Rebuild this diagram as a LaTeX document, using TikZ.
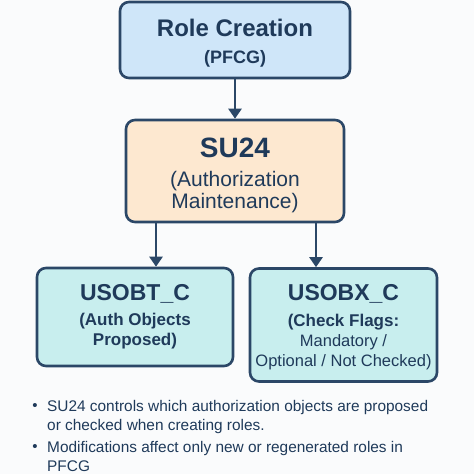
\documentclass[tikz,border=0pt]{standalone}
\usepackage{fontspec}
\setmainfont{Liberation Sans}
\usetikzlibrary{arrows.meta}
\definecolor{navy}{HTML}{2B4767}
\definecolor{txt}{HTML}{1F3A5A}
\definecolor{bg}{HTML}{FAFBFC}
\definecolor{topfill}{HTML}{CFE6F9}
\definecolor{midfill}{HTML}{FDE8D0}
\definecolor{lowfill}{HTML}{C8EEEE}
\newcommand{\fsz}[2]{\fontsize{#1}{#2}\selectfont}
\begin{document}
\begin{tikzpicture}[x=1pt,y=-1pt,
  box/.style={draw=navy, line width=2.6pt, rounded corners=9pt, inner sep=0pt, align=center, text=txt},
  conn/.style={draw=navy, line width=2.6pt, -{Triangle[width=13pt,length=10pt]}},
  bull/.style={anchor=north west, inner sep=0pt, align=left, text=txt, font=\fsz{15.4}{19.5}}]
\fill[bg] (0,0) rectangle (474,474);
\useasboundingbox (0,0) rectangle (474,474);
\node[box, fill=topfill, minimum width=230pt, minimum height=76pt, font=\fsz{18}{27}] (role) at (235,40)
  {{\fsz{24}{27}\bfseries\rule{0pt}{24pt}Role Creation}\\{\bfseries (PFCG)}};
\node[box, fill=midfill, minimum width=218pt, minimum height=102pt, font=\fsz{21}{21.5}] (su) at (235,171)
  {{\fsz{28}{29}\bfseries\rule{0pt}{28pt}SU24}\\[8pt](Authorization\\Maintenance)};
\node[box, fill=lowfill, minimum width=196pt, minimum height=98pt, font=\fsz{17}{20}] (usobt) at (135,317)
  {{\fsz{23}{26}\bfseries USOBT\_C}\\[5pt]{\bfseries (Auth Objects}\\{\bfseries Proposed)}};
\node[box, fill=lowfill, minimum width=187pt, minimum height=113pt, font=\fsz{16.5}{20}] (usobx) at (343.5,325)
  {{\fsz{23}{26}\bfseries\rule{0pt}{21pt}USOBX\_C}\\[6pt]{\fsz{17}{20}\bfseries (Check Flags:}\\Mandatory /\\Optional / Not Checked)};
\draw[conn] (role.south) -- (su.north);
\draw[conn] ([xshift=-79pt]su.south) -- ([xshift=-79pt]su.south |- usobt.north);
\draw[conn] ([xshift=81pt]su.south) -- ([xshift=81pt]su.south |- usobx.north);
\node[bull] (b1) at (47,400) {SU24 controls which authorization objects are proposed\\or checked when creating roles.};
\node[bull] (b2) at (47,441) {Modifications affect only new or regenerated roles in\\PFCG};
\node[text=txt, font=\fsz{15}{19}, inner sep=0pt] (d1) at (35,407) {•};
\node[text=txt, font=\fsz{15}{19}, inner sep=0pt] (d2) at (35,448) {•};
\end{tikzpicture}
\end{document}
